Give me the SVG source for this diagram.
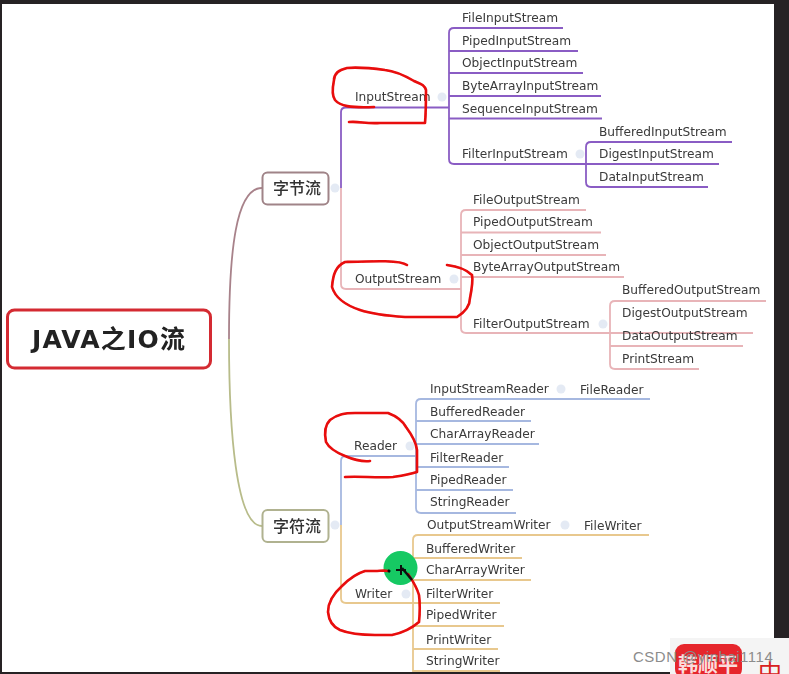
<svg xmlns="http://www.w3.org/2000/svg" width="789" height="674" viewBox="0 0 789 674">
<defs><filter id="soft" x="-2%" y="-2%" width="104%" height="104%"><feGaussianBlur stdDeviation="0.45"/></filter></defs>
<style>
text{font-family:"DejaVu Sans","Noto Sans CJK SC",sans-serif;font-size:12.2px;fill:#3a3a3a}
.c{fill:none;stroke-width:1.8;stroke-linejoin:round}
.p{stroke:#8a5cc4}.k{stroke:#e8b4b8}.b{stroke:#a6b8e0}.o{stroke:#e8c88e}
.t{fill:#e4eaf4;stroke:none}
.r{fill:none;stroke:#e80808;stroke-width:2.6;stroke-linecap:round;stroke-linejoin:round}
.n{fill:#fff;stroke-width:2}
.z{font-size:16px;fill:#333;font-weight:500}
</style>
<rect width="789" height="674" fill="#262224"/>
<rect x="2" y="4" width="772" height="668" fill="#fff"/>
<rect x="670" y="638" width="119" height="36" fill="#f4f4f4"/>
<g filter="url(#soft)">
<g id="connectors">
<path class="c" stroke="#a8828a" d="M229 339C229 250 236 188 262 188"/>
<path class="c" stroke="#b8bc8a" d="M229 339C229 430 236 526 262 526"/>
<path class="c p" d="M341 188V112Q341 107.500 346 107.500H449"/>
<path class="c k" d="M341 188V284Q341 289 346 289H461"/>
<path class="c b" d="M341 525V461Q341 456 346 456H416"/>
<path class="c o" d="M341 525V598Q341 603 346 603H413"/>
<path class="c p" d="M563 28H454Q449 28 449 33V159Q449 164 454 164H719M449 51H578M449 73H583M449 96H601M449 118.500H602"/>
<path class="c p" d="M732 142H591Q586 142 586 147V182Q586 187 591 187H708"/>
<path class="c k" d="M586 210H466Q461 210 461 215V328Q461 333 466 333H753M461 232.500H601M461 255H606M461 277H624"/>
<path class="c k" d="M766 301H615Q610 301 610 306V364Q610 369 615 369H699M610 346H743"/>
<path class="c b" d="M650 399H421Q416 399 416 404V508Q416 513 421 513H516M416 421H531M416 444H539M416 467H509M416 490H513"/>
<path class="c o" d="M649 535H418Q413 535 413 540V672M413 558H522M413 580H531M413 603H500M413 626H504M413 649H498M413 671H500"/>
<circle class="t" cx="335" cy="188" r="4.500"/><circle class="t" cx="335" cy="525" r="4.500"/>
<circle class="t" cx="442" cy="97" r="4.500"/><circle class="t" cx="580" cy="154" r="4.500"/>
<circle class="t" cx="454" cy="279" r="4.500"/><circle class="t" cx="603" cy="324" r="4.500"/>
<circle class="t" cx="410" cy="446" r="4.500"/><circle class="t" cx="561" cy="389" r="4.500"/>
<circle class="t" cx="406" cy="594" r="4.500"/><circle class="t" cx="565" cy="525" r="4.500"/>
</g>
<g id="root"><rect class="n" x="7.500" y="310" width="203" height="58" rx="7" stroke="#d42c30" style="stroke-width:3"/><text x="32" y="348" style="font-size:25px;font-weight:700;fill:#222;letter-spacing:1.2px">JAVA之IO流</text></g>
<g id="byte"><rect class="n" x="262.500" y="172.500" width="66" height="32" rx="5" stroke="#a08488"/><text class="z" x="297" y="194" text-anchor="middle">字节流</text></g>
<g id="char"><rect class="n" x="262.500" y="510" width="66" height="32" rx="5" stroke="#b0b290"/><text class="z" x="297" y="532" text-anchor="middle">字符流</text></g>
<g id="inputstream"><text x="355" y="100.500">InputStream</text>
<text x="462" y="22">FileInputStream</text><text x="462" y="44.500">PipedInputStream</text><text x="462" y="67">ObjectInputStream</text><text x="462" y="90">ByteArrayInputStream</text><text x="462" y="112.500">SequenceInputStream</text><text x="462" y="158">FilterInputStream</text>
<text x="599" y="136">BufferedInputStream</text><text x="599" y="158">DigestInputStream</text><text x="599" y="181">DataInputStream</text></g>
<g id="outputstream"><text x="355" y="282.500">OutputStream</text>
<text x="473" y="203.500">FileOutputStream</text><text x="473" y="226">PipedOutputStream</text><text x="473" y="248.500">ObjectOutputStream</text><text x="473" y="271">ByteArrayOutputStream</text><text x="473" y="328">FilterOutputStream</text>
<text x="622" y="294">BufferedOutputStream</text><text x="622" y="317">DigestOutputStream</text><text x="622" y="339.500">DataOutputStream</text><text x="622" y="363">PrintStream</text></g>
<g id="reader"><text x="354" y="450">Reader</text>
<text x="430" y="392.500">InputStreamReader</text><text x="580" y="393.500">FileReader</text><text x="430" y="416">BufferedReader</text><text x="430" y="438">CharArrayReader</text><text x="430" y="462">FilterReader</text><text x="430" y="484">PipedReader</text><text x="430" y="506">StringReader</text></g>
<g id="writer"><text x="355" y="598">Writer</text>
<text x="427" y="529">OutputStreamWriter</text><text x="584" y="530">FileWriter</text><text x="426" y="553">BufferedWriter</text><text x="426" y="574">CharArrayWriter</text><text x="426" y="598">FilterWriter</text><text x="426" y="619">PipedWriter</text><text x="426" y="644">PrintWriter</text><text x="426" y="665">StringWriter</text></g>
<g id="annotations">
<circle cx="400.500" cy="568" r="17" fill="#12c964"/>
<path class="r" d="M349 122C360 121 365 124 380 123H425C426 112 426 100 426 90C424 84 420 84 414 81C402 74 395 71 385 70C370 68 358 67 347 68C338 70 334 74 334 80C332 90 332 96 335 100C340 106 350 108 374 107"/>
<path class="r" d="M407 265C400 260 375 261 345 262C336 266 333 274 332 287C335 297 345 305 360 310C375 315 390 316 405 317H457C465 312 470 305 470 298C472 288 473 280 472 275C465 268 455 266 447 265"/>
<path class="r" d="M370 461C362 462 352 459 345 456C335 452 329 448 326 442C324 432 325 425 330 420C338 414 345 413 355 413H388C396 416 402 420 406 427C412 435 416 442 417 450V472C408 475 400 476 393 477C375 478 360 476 345 477"/>
<path class="r" d="M388 571C384 570 380 571 375 571H365C358 573 350 578 342 586C333 594 328 602 328 612C329 622 333 627 340 630C350 634 360 635 375 635H392C402 633 412 628 419 622C420 612 420 603 419 595C416 585 412 580 408 574"/>
<path d="M388 570L390 572M402 568L412 580" fill="none" stroke="#111" stroke-width="2.500"/>
<path d="M396 570H406M401 565V575" fill="none" stroke="#111" stroke-width="2"/>
</g>
</g>
<g id="badge"><rect x="675" y="644" width="67" height="34" rx="9" fill="#e6262c"/><text x="708" y="672" text-anchor="middle" style="font-size:20px;font-weight:700;fill:#fbdcdc">韩顺平</text><text x="770" y="681" text-anchor="middle" style="font-size:24px;font-weight:400;fill:#d82020">中</text></g>
<text x="633" y="662" style="font-family:'Liberation Sans',sans-serif;font-size:15px;fill:#8c8c8c;letter-spacing:.5px">CSDN @yinhai1114</text>
</svg>
